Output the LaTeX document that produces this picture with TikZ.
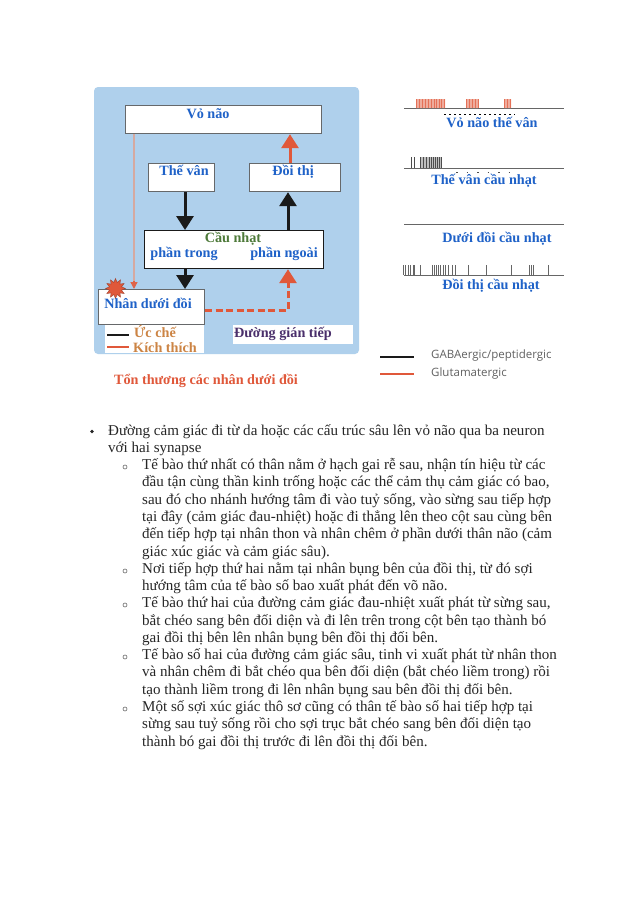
\documentclass[tikz,border=0pt]{standalone}
\usepackage{fontspec}
\setmainfont{Liberation Serif}
\newfontfamily\lblfont{Liberation Serif}[BoldFont={Liberation Serif Bold}]
\newfontfamily\legfont{Open Sans}
\usetikzlibrary{arrows.meta,shapes.geometric}
\definecolor{panel}{HTML}{AFD0EC}
\definecolor{lblblue}{HTML}{1F62C8}
\definecolor{redo}{HTML}{E0583A}
\definecolor{boxgray}{HTML}{66686A}
\definecolor{paleline}{HTML}{D5A9A0}
\definecolor{greenl}{HTML}{4E7A3A}
\definecolor{orl}{HTML}{CC8444}
\definecolor{purp}{HTML}{4A2F6B}
\definecolor{blk}{HTML}{1A1A1A}
\tikzset{
 bx/.style={draw=boxgray,line width=1.2pt,fill=white,anchor=north west,inner sep=0pt,minimum width=#1},
 lbl/.style={font=\lblfont\bfseries\fontsize{14.2}{16}\selectfont,text=lblblue,inner sep=0pt,anchor=base},
 body/.style={anchor=base west,inner sep=0pt,font=\fontsize{15.05}{17}\selectfont,text=black!85},
 tipb/.style={-{Triangle[width=17pt,length=14pt]},line width=3pt,blk},
 tipr/.style={-{Triangle[width=17pt,length=14pt]},line width=3pt,redo},
 rule/.style={line width=1pt,draw=black!60},
 legtxt/.style={font=\legfont\fontsize{11.5}{13}\selectfont,text=black!62,anchor=west,inner sep=0pt},
 subb/.style={circle,draw=black!60,line width=.6pt,minimum size=4pt,inner sep=0pt},
}
\newcommand{\ticks}[4]{\foreach \t in {#4}{\draw[line width=.9pt,#3] (\t,#1) -- (\t,#2);}}
\begin{document}
\begin{tikzpicture}[x=1pt,y=-1pt]
\useasboundingbox (0,0) rectangle (638,902);
\fill[white] (0,0) rectangle (638,902);
\fill[panel,rounded corners=4pt] (94,87) rectangle (359,354);
% white legend areas
\fill[white] (105,322) rectangle (204,353);
\fill[white] (233,325) rectangle (353,344);
% boxes
\node[bx=196pt,minimum height=28pt] (vonao) at (125,105) {};
\node[bx=66pt,minimum height=28pt] (thevan) at (148,163) {};
\node[bx=91pt,minimum height=28pt] (doithi) at (249,163) {};
\node[bx=179pt,minimum height=38pt,draw=blk] (caunhat) at (144,230) {};
\node[bx=106pt,minimum height=35pt] (nhan) at (98,289) {};
\coordinate (xa) at (134,0);
\coordinate (xb) at (185,0);
\coordinate (xc) at (288,0);
\coordinate (xd) at (290,0);
\coordinate (yd) at (0,310);
% connectors
\draw[line width=1.3pt,paleline] (vonao.south -| xa) -- (134,282);
\draw[-{Triangle[width=7pt,length=7pt]},line width=1.3pt,redo!85!paleline] (134,281) -- (nhan.north -| xa);
\draw[tipr] (doithi.north -| xd) -- (vonao.south -| xd);
\draw[tipb] (thevan.south -| xb) -- (caunhat.north -| xb);
\draw[tipb] (caunhat.north -| xc) -- (doithi.south -| xc);
\draw[tipb] (caunhat.south -| xb) -- (nhan.north -| xb);
\draw[line width=3pt,redo,dash pattern=on 7pt off 3.5pt] (nhan.east |- yd) -- (yd -| xc) -- (288,281);
\draw[tipr] (288,281) -- (caunhat.south -| xc);
\node[star,star points=12,star point ratio=1.6,minimum size=20pt,inner sep=0pt,fill=redo,draw=redo!70!black,line width=.4pt] (spark) at (115.5,288.5) {};
% panel labels
\node[lbl] (t1) at (208,118) {Vỏ não};
\node[lbl] (t2) at (184,175) {Thế vân};
\node[lbl] (t3) at (293,175) {Đồi thị};
\node[lbl,text=greenl] (t4) at (233,242) {Cầu nhạt};
\node[lbl] (t5) at (184,257) {phần trong};
\node[lbl] (t6) at (284,257) {phần ngoài};
\node[lbl] (t7) at (148,308) {Nhân dưới đồi};
\node[lbl,text=orl] (t8) at (155,337) {Ức chế};
\node[lbl,text=orl] (t9) at (165,352) {Kích thích};
\node[lbl,text=purp] (t10) at (283,337) {Đường gián tiếp};
\node[lbl,text=redo] (t11) at (206,384) {Tổn thương các nhân dưới đồi};
\draw[line width=2.2pt,blk] (107,335) -- (129,335);
\draw[line width=2.2pt,redo] (107,347) -- (129,347);
% spike trains
\draw[rule] (404,108) -- (564,108);
\fill[redo!50] (416,99) rectangle (445,108) (466,99) rectangle (478,108) (504,99) rectangle (511,108);
\ticks{99}{108}{redo!85}{416,419,422,425,428,431,434,436,439,441,444,466,469,472,475,478,504,507,510}
\draw[line width=.8pt,black,dash pattern=on 2pt off 3pt] (444,114) -- (515,114);
\draw[rule] (404,168) -- (564,168);
\fill[black!25] (420,157) rectangle (442,168);
\ticks{157}{168}{black!70}{411,414,420,423,426,429,431,433,435,437,439,441}
\draw[line width=.8pt,black!70,dash pattern=on 1.5pt off 9pt] (456,172) -- (514,172);
\draw[rule] (404,224) -- (564,224);
\draw[rule] (404,275) -- (564,275);
\ticks{265}{275}{black!60}{403,405,408,410,413,414,420,432,434,436,438,440,443,445,448,452,455,468,486,511,529,531,533,548}
\node[lbl] (r1) at (492,127) {Vỏ não thế vân};
\node[lbl] (r2) at (484,184) {Thế vân cầu nhạt};
\node[lbl] (r3) at (497,242) {Dưới đồi cầu nhạt};
\node[lbl] (r4) at (491,289) {Đồi thị cầu nhạt};
\draw[line width=2.2pt,blk] (380,357) -- (414,357);
\draw[line width=2.2pt,redo] (380,374) -- (414,374);
\node[legtxt] (g1) at (431,356) {GABAergic/peptidergic};
\node[legtxt] (g2) at (431,374) {Glutamatergic};
% text
\fill[black!85] (92,431.5) circle (1.8pt);
\node[body] (l1) at (108,435) {Đường cảm giác đi từ da hoặc các cấu trúc sâu lên vỏ não qua ba neuron};
\node[body] (l2) at (108,452.3) {với hai synapse};
\node[subb] (c1) at (125,467) {};
\node[body] (l3) at (142,469.6) {Tế bào thứ nhất có thân nằm ở hạch gai rễ sau, nhận tín hiệu từ các};
\node[body] (l4) at (142,486.8) {đầu tận cùng thần kinh trống hoặc các thể cảm thụ cảm giác có bao,};
\node[body] (l5) at (142,504.1) {sau đó cho nhánh hướng tâm đi vào tuỷ sống, vào sừng sau tiếp hợp};
\node[body] (l6) at (142,521.4) {tại đây (cảm giác đau-nhiệt) hoặc đi thẳng lên theo cột sau cùng bên};
\node[body] (l7) at (142,538.7) {đến tiếp hợp tại nhân thon và nhân chêm ở phần dưới thân não (cảm};
\node[body] (l8) at (142,556) {giác xúc giác và cảm giác sâu).};
\node[subb] (c2) at (125,571) {};
\node[body] (l9) at (142,573.2) {Nơi tiếp hợp thứ hai nằm tại nhân bụng bên của đồi thị, từ đó sợi};
\node[body] (l10) at (142,590.5) {hướng tâm của tế bào số bao xuất phát đến võ não.};
\node[subb] (c3) at (125,605) {};
\node[body] (l11) at (142,607.8) {Tế bào thứ hai của đường cảm giác đau-nhiệt xuất phát từ sừng sau,};
\node[body] (l12) at (142,625) {bắt chéo sang bên đối diện và đi lên trên trong cột bên tạo thành bó};
\node[body] (l13) at (142,642.3) {gai đồi thị bên lên nhân bụng bên đồi thị đối bên.};
\node[subb] (c4) at (125,657) {};
\node[body] (l14) at (142,659.6) {Tế bào số hai của đường cảm giác sâu, tinh vi xuất phát từ nhân thon};
\node[body] (l15) at (142,676.9) {và nhân chêm đi bắt chéo qua bên đối diện (bắt chéo liềm trong) rồi};
\node[body] (l16) at (142,694.2) {tạo thành liềm trong đi lên nhân bụng sau bên đồi thị đối bên.};
\node[subb] (c5) at (125,709) {};
\node[body] (l17) at (142,711.4) {Một số sợi xúc giác thô sơ cũng có thân tế bào số hai tiếp hợp tại};
\node[body] (l18) at (142,728.7) {sừng sau tuỷ sống rồi cho sợi trục bắt chéo sang bên đối diện tạo};
\node[body] (l19) at (142,746) {thành bó gai đồi thị trước đi lên đồi thị đối bên.};
\end{tikzpicture}
\end{document}
